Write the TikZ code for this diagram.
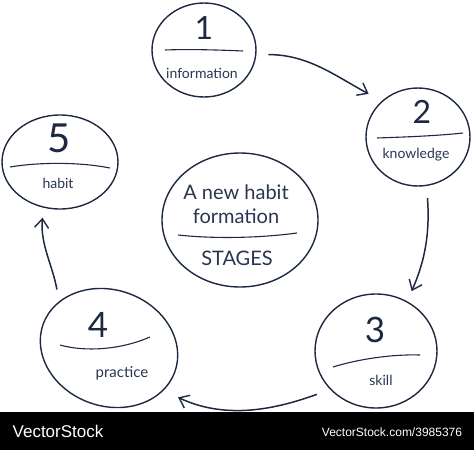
\documentclass[tikz,border=0pt]{standalone}
\usepackage{fontspec}
\setmainfont{Lato}
\newfontfamily\bannerfont{Liberation Sans}
\usetikzlibrary{shapes.geometric,arrows.meta}
\definecolor{ink}{HTML}{1D2841}
\definecolor{inktext}{HTML}{2A3550}
\tikzset{
  bub/.style={ellipse, draw=ink, line width=1.4pt, inner sep=0pt},
  num/.style={text=ink, inner sep=0pt, font=\fontsize{32}{32}\selectfont},
  lab/.style={text=inktext, inner sep=0pt, font=\fontsize{14}{14}\selectfont},
  big/.style={text=inktext, inner sep=0pt, font=\fontsize{20}{20}\selectfont},
  divider/.style={draw=ink, line width=1.1pt},
  arr/.style={draw=ink, line width=1.5pt, -{Straight Barb[length=9pt,width=14pt,line width=1.4pt]}},
}
\begin{document}
\begin{tikzpicture}[x=1pt,y=-1pt]
\useasboundingbox (0,0) rectangle (474,450);
% banner
\fill[black] (0,412) rectangle (474,450);
\node[text=white, inner sep=0pt, font=\bannerfont\fontsize{17}{17}\selectfont] (brand) at (58,431) {VectorStock};
\node[text=white, inner sep=0pt, font=\bannerfont\fontsize{12}{12}\selectfont] (url) at (392,432) {VectorStock.com/3985376};

% bubbles
\node[bub, minimum width=104pt, minimum height=94pt] (n1) at (204,50) {};
\node[bub, minimum width=104pt, minimum height=98pt] (n2) at (418,137) {};
\node[bub, minimum width=122pt, minimum height=114pt] (n3) at (376,351) {};
\node[bub, minimum width=140pt, minimum height=116pt, rotate=-20] (n4) at (109,348) {};
\node[bub, minimum width=116pt, minimum height=94pt] (n5) at (60,162) {};
\node[bub, minimum width=156pt, minimum height=134pt] (c) at (240,220) {};

% stage 1
\node[num] (d1) at (204,28) {1};
\draw[divider] (165,50) .. controls (190,49) and (220,50) .. (243,51);
\node[lab] (w1) at (202,73) {information};
% stage 2
\node[num] (d2) at (422,112) {2};
\draw[divider] (377,138) .. controls (405,137) and (435,136) .. (463,133);
\node[lab] (w2) at (416,155) {knowledge};
% stage 3
\node[num, font=\fontsize{35}{35}\selectfont] (d3) at (375,330) {3};
\draw[divider] (333,367) .. controls (355,360) and (390,354) .. (420,355);
\node[lab] (w3) at (381,380) {skill};
% stage 4
\node[num, font=\fontsize{35}{35}\selectfont] (d4) at (98,325) {4};
\draw[divider] (60,345) .. controls (85,352) and (120,350) .. (150,337);
\node[lab, font=\fontsize{15}{15}\selectfont] (w4) at (122,373) {practice};
% stage 5
\node[num, font=\fontsize{40}{40}\selectfont] (d5) at (59,138) {5};
\draw[divider] (10,167) .. controls (40,162) and (80,162) .. (110,168);
\node[lab] (w5) at (58,183) {habit};
% centre
\node[big] (h1) at (236,192) {A new habit};
\node[big] (h2) at (236,216) {formation};
\draw[divider] (178,235) .. controls (215,239) and (260,238) .. (297,233);
\node[big] (h3) at (237,258) {STAGES};

% arrows
\draw[arr, shorten <=12pt, shorten >=15pt] (n1.-5) to[out=0, in=152] (n2.135);
\draw[arr, shorten <=12pt, shorten >=11pt] (n2.-80) to[out=-86, in=66] (n3.58);
\draw[arr, shorten <=14pt, shorten >=16pt] (n3.-140) to[out=200, in=-25] (n4.-18);
\draw[arr, shorten <=12pt, shorten >=10pt] (n4.157) to[out=100, in=-95] (n5.-110);
\end{tikzpicture}
\end{document}
